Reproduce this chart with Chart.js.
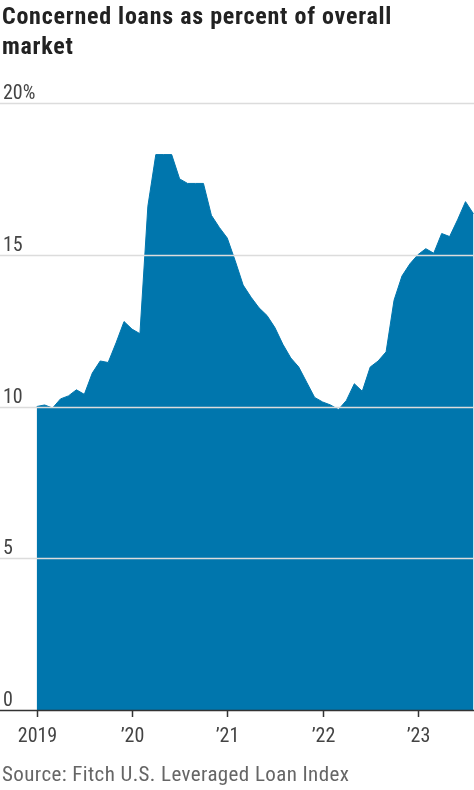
<!DOCTYPE html>
<html>
<head>
<meta charset="utf-8">
<script src="https://cdn.jsdelivr.net/npm/chart.js@4.4.1/dist/chart.umd.min.js"></script>
<style>
  html, body { margin: 0; padding: 0; background: #fff; }
  body { width: 474px; height: 790px; position: relative; overflow: hidden; }
  #title { position: absolute; left: 2px; top: 1px; width: 440px; font-family: "Roboto Condensed", "Liberation Sans", sans-serif; font-weight: bold; font-size: 24px; letter-spacing: 0.75px; line-height: 30px; color: #222; }
  #source { position: absolute; left: 2px; top: 762px; font-family: "Roboto Condensed", "Liberation Sans", sans-serif; font-size: 21px; letter-spacing: 0.4px; color: #666; white-space: nowrap; }
  #wrap { position: absolute; left: 0; top: 0; width: 474px; height: 790px; }
</style>
</head>
<body>
<div id="wrap"><canvas id="c" width="474" height="790"></canvas></div>
<div id="title">Concerned loans as percent of overall market</div>
<div id="source">Source: Fitch U.S. Leveraged Loan Index</div>
<script>
// Monthly values, Jan 2019 – Aug 2023 (percent)
const startYear = 2019;
const values = [
  10.0, 10.05, 9.95, 10.25, 10.35, 10.55, 10.4, 11.1, 11.5, 11.45, 12.1, 12.8,
  12.55, 12.4, 16.6, 18.3, 18.3, 18.3, 17.5, 17.35, 17.35, 17.35, 16.3, 15.9,
  15.55, 14.8, 14.0, 13.6, 13.25, 13.0, 12.6, 12.05, 11.6, 11.3, 10.8, 10.3,
  10.15, 10.05, 9.9, 10.2, 10.75, 10.5, 11.3, 11.5, 11.8, 13.5, 14.3, 14.7,
  15.0, 15.2, 15.05, 15.7, 15.6, 16.15, 16.75, 16.35
];
const yTicks = [0, 5, 10, 15, 20];
const yTickLabels = ['0', '5', '10', '15', '20%'];
const xTickMonths = [0, 12, 24, 36, 48];
const xTickLabels = ['2019', '\u201920', '\u201921', '\u201922', '\u201923'];

const FONT = '"Roboto Condensed", "Liberation Sans", sans-serif';

const axisPlugin = {
  id: 'axisPlugin',
  afterDatasetsDraw(chart) {
    const ctx = chart.ctx;
    const xs = chart.scales.x, ys = chart.scales.y;
    const left = 0, right = chart.width;
    ctx.save();
    // gridlines
    yTicks.forEach((t) => {
      if (t === 0) return;
      const y = Math.round(ys.getPixelForValue(t));
      ctx.strokeStyle = '#dcdcdc';
      ctx.lineWidth = 1.6;
      ctx.beginPath();
      ctx.moveTo(left, y + 0.5);
      ctx.lineTo(right, y + 0.5);
      ctx.stroke();
    });
    // baseline
    const y0 = Math.round(ys.getPixelForValue(0));
    ctx.strokeStyle = '#333';
    ctx.lineWidth = 1.5;
    ctx.beginPath();
    ctx.moveTo(left, y0 + 0.5);
    ctx.lineTo(right, y0 + 0.5);
    ctx.stroke();
    // y labels
    ctx.font = '20px ' + FONT;
    ctx.fillStyle = '#444';
    ctx.textAlign = 'left';
    ctx.textBaseline = 'alphabetic';
    yTicks.forEach((t, i) => {
      const y = ys.getPixelForValue(t);
      ctx.fillText(yTickLabels[i], 3, y - 4);
    });
    // x ticks & labels
    ctx.strokeStyle = '#333';
    ctx.lineWidth = 1.5;
    ctx.textAlign = 'center';
    ctx.fillStyle = '#444';
    xTickMonths.forEach((m, i) => {
      const x = Math.round(xs.getPixelForValue(m)) + 0.5;
      ctx.beginPath();
      ctx.moveTo(x, y0);
      ctx.lineTo(x, y0 + 7);
      ctx.stroke();
      ctx.fillText(xTickLabels[i], x, y0 + 32);
    });
    ctx.restore();
  }
};

new Chart(document.getElementById('c'), {
  type: 'line',
  data: {
    datasets: [{
      data: values.map((v, i) => ({ x: i, y: v })),
      fill: 'origin',
      backgroundColor: '#0076ad',
      borderColor: '#0076ad',
      borderWidth: 1,
      pointRadius: 0,
      tension: 0
    }]
  },
  options: {
    responsive: false,
    animation: false,
    events: [],
    layout: { padding: { top: 103, bottom: 80, left: 0, right: 0 } },
    plugins: { legend: { display: false }, tooltip: { enabled: false } },
    scales: {
      x: { type: 'linear', min: -4.62, max: 55.07, display: false },
      y: { type: 'linear', min: 0, max: 20, display: false }
    }
  },
  plugins: [axisPlugin]
});
</script>
</body>
</html>
